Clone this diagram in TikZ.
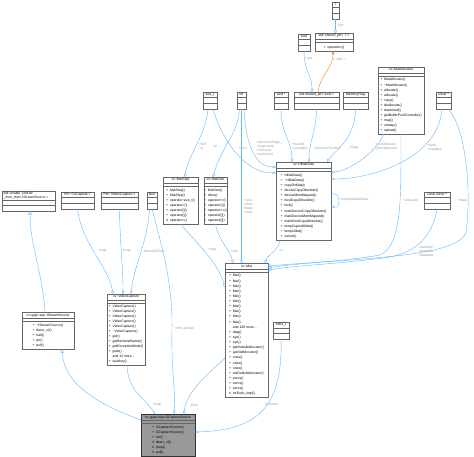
\documentclass[tikz,border=0pt]{standalone}
\usepackage{fontspec}
\setmainfont{Liberation Sans}
\usetikzlibrary{arrows.meta,calc}
\definecolor{edgeblue}{HTML}{63B8FF}
\definecolor{boxline}{HTML}{666666}
\definecolor{lblgray}{HTML}{9A9A9A}
\definecolor{mainfill}{HTML}{999999}
% class box: [style]{id}{x1}{y1}{x2}{y2}{nrows}{title}{rows}
\newcommand{\cls}[9][boxnode]{%
  \pgfmathsetmacro\cbW{#5-#3}%
  \pgfmathsetmacro\cbH{#6-#4}%
  \pgfmathsetmacro\cbP{(#6-#4-11)/#7}%
  \node[#1, minimum width=\cbW pt, minimum height=\cbH pt, anchor=north west] (#2) at (#3,#4) {};
  \draw[sepline] (#3,#4+5.8) -- (#5,#4+5.8);
  \draw[sepline] (#3,#4+8.8) -- (#5,#4+8.8);
  \node[ttl] (#2-t) at ({(#3+#5)/2},#4+3.1) {#8};
  \node[rowtxt] (#2-r) at ({(#3+#5)/2},#4+10.2) {\fontsize{3.4}{\cbP pt}\selectfont\begin{tabular}{@{}c@{\hspace{1.8pt}}l@{}}#9\end{tabular}};
}
% empty box: {id}{x1}{y1}{x2}{title}
\newcommand{\ebx}[5]{%
  \pgfmathsetmacro\cbW{#4-#2}%
  \node[boxnode, minimum width=\cbW pt, minimum height=17pt, anchor=north west] (#1) at (#2,#3) {};
  \draw[sepline] (#2,#3+5.7) -- (#4,#3+5.7);
  \draw[sepline] (#2,#3+11.3) -- (#4,#3+11.3);
  \node[ttl] (#1-t) at ({(#2+#4)/2},#3+3) {#5};
}
\begin{document}
\begin{tikzpicture}[x=1pt,y=-1pt,
  boxnode/.style={draw=boxline, fill=white, line width=0.4pt, inner sep=0pt, outer sep=0pt, rectangle},
  mainnode/.style={boxnode, fill=mainfill, draw=black!80},
  sepline/.style={draw=boxline, line width=0.4pt},
  ttl/.style={inner sep=0pt, font=\fontsize{3.4}{4}\selectfont, text height=2.5pt, text depth=0.7pt},
  rowtxt/.style={inner sep=0pt, anchor=north},
  lbl/.style={inner sep=0pt, anchor=west, text=lblgray, align=left, font=\fontsize{3.4}{4.1}\selectfont},
  use/.style={draw=edgeblue, line width=0.4pt, -{Diamond[open,length=4.2pt,width=2.6pt]}},
  inh/.style={draw=edgeblue, line width=0.4pt, -{Triangle[open,length=3.6pt,width=3.6pt]}},
  tmpl/.style={draw=orange, line width=0.4pt, -{Triangle[length=3.4pt,width=2.6pt]}},
]
\fill[white] (0,0) rectangle (474,457);
\useasboundingbox (0,0) rectangle (474,457);

% ---------- boxes ----------
\ebx{T}{332}{2}{339}{T}
\ebx{void}{298}{34}{310}{void}
\cls{spT}{315}{33}{353}{51}{1}{std::shared\_ptr< T >}{+ & operator=()}
\ebx{spVoid}{294}{92}{339}{std::shared\_ptr< void >}
\ebx{voidp}{274}{92}{288}{void *}
\ebx{int}{237}{92}{246}{int}
\ebx{sizet}{203}{92}{217}{size\_t}
\ebx{memflag}{343}{92}{368}{MemoryFlag}
\ebx{uchar}{436}{92}{451}{uchar *}
\cls{alloc}{378}{67}{424}{134}{11}{cv::MatAllocator}{%
+ & MatAllocator()\\ + & \textasciitilde MatAllocator()\\ + & allocate()\\ + & allocate()\\
+ & copy()\\ + & deallocate()\\ + & download()\\ + & getBufferPoolController()\\
+ & map()\\ + & unmap()\\ + & upload()}

% enable_shared_from_this (two-line title)
\node[boxnode, minimum width=53pt, minimum height=20pt, anchor=north west] (enable) at (2,191) {};
\draw[sepline] (2,200.5) -- (55,200.5);
\draw[sepline] (2,205.5) -- (55,205.5);
\node[inner sep=0pt, anchor=north west, align=left, font=\fontsize{3.4}{4}\selectfont] (enable-t) at (3.5,191.8) {std::enable\_shared\\\_from\_this< IStreamSource >};

\ebx{ptrcv}{61}{192}{94}{Ptr< CvCapture >}
\ebx{ptriv}{101}{192}{138}{Ptr< IVideoCapture >}
\ebx{bool}{147}{192}{157}{bool}
\ebx{cuchar}{424}{192}{450}{const uchar *}
\ebx{i64}{273}{322}{289}{int64\_t}

\cls{matstep}{163}{177}{198}{224}{7}{cv::MatStep}{%
+ & MatStep()\\ + & MatStep()\\ + & operator size\_t()\\ + & operator=()\\
+ & operator[]()\\ + & operator[]()\\ \# & operator=()}
\cls{matsize}{204}{177}{227}{224}{7}{cv::MatSize}{%
+ & MatSize()\\ + & dims()\\ + & operator!=()\\ + & operator()()\\
+ & operator==()\\ + & operator[]()\\ + & operator[]()}
\cls{umat}{276}{162}{331}{240}{13}{cv::UMatData}{%
+ & UMatData()\\ + & \textasciitilde UMatData()\\ + & copyOnMap()\\ + & deviceCopyObsolete()\\
+ & deviceMemMapped()\\ + & hostCopyObsolete()\\ + & lock()\\ + & markDeviceCopyObsolete()\\
+ & markDeviceMemMapped()\\ + & markHostCopyObsolete()\\ + & tempCopiedUMat()\\ + & tempUMat()\\
+ & unlock()}
\cls{mat}{225}{263}{268}{397}{24}{cv::Mat}{%
+ & Mat()\\ + & Mat()\\ + & Mat()\\ + & Mat()\\ + & Mat()\\ + & Mat()\\ + & Mat()\\ + & Mat()\\
+ & Mat()\\ + & Mat()\\ & and 128 more...\\ + & diag()\\ + & eye()\\ + & eye()\\
+ & getDefaultAllocator()\\ + & getStdAllocator()\\ + & ones()\\ + & ones()\\ + & ones()\\
+ & setDefaultAllocator()\\ + & zeros()\\ + & zeros()\\ + & zeros()\\ \# & forEach\_impl()}
\cls{vcap}{107}{294}{145}{365}{12}{cv::VideoCapture}{%
+ & VideoCapture()\\ + & VideoCapture()\\ + & VideoCapture()\\ + & VideoCapture()\\
+ & VideoCapture()\\ + & \textasciitilde VideoCapture()\\ + & get()\\ + & getBackendName()\\
+ & getExceptionMode()\\ + & grab()\\ & and 12 more...\\ + & waitAny()}
\cls{iss}{22}{312}{74}{349}{5}{cv::gapi::wip::IStreamSource}{%
+ & \textasciitilde IStreamSource()\\ + & descr\_of()\\ + & halt()\\ + & ptr()\\ + & pull()}
\cls[mainnode]{gcs}{141}{414}{195}{456}{6}{cv::gapi::wip::GCaptureSource}{%
+ & GCaptureSource()\\ + & GCaptureSource()\\ + & set()\\ \# & descr\_of()\\ \# & prep()\\ \# & pull()}

% ---------- connectors ----------
\draw[use] (T.south) -- (T.south |- spT.north);
\node[lbl] (l1) at (337.5,26) {+ptr};
\draw[use] (void.south) .. controls (304,72) and (312,75) .. ($(spVoid.north west)+(18,0)$);
\node[lbl] (l2) at (306,59) {+ptr};
\draw[tmpl] ($(spVoid.north west)+(24,0)$) .. controls (320,75) and (333,68) .. ($(spT.south west)+(18,0)$);
\node[lbl] (l3) at (333,59) { < void >};

\draw[use] (spVoid.south) .. controls (316,135) and (309,140) .. ($(umat.north west)+(33,0)$);
\node[lbl] (l4) at (313.5,148) {+allocatorContext};
\draw[use] (voidp.south) .. controls (281,135) and (292,140) .. ($(umat.north west)+(16,0)$);
\node[lbl] (l5) at (292,146) {+handle\\+userdata};
\draw[use] ($(int.south west)+(7,0)$) .. controls (246,150) and (258,167) .. ($(umat.north west)+(0,5)$);
\node[lbl] (l6) at (256.5,148) {+allocatorFlags\_\\+mapcount\\+refcount\\+urefcount};
\draw[use] ($(sizet.south west)+(10,0)$) .. controls (222,140) and (245,173) .. ($(umat.north west)+(0,11)$);
\node[lbl] (l7) at (238.5,148) {+size};
\draw[use] (memflag.south) .. controls (355,140) and (335,150) .. ($(umat.north east)+(-4,0)$);
\node[lbl] (l8) at (349,148) {+flags};
\draw[use] ($(alloc.south west)+(6,0)$) .. controls (375,155) and (345,172) .. ($(umat.north east)+(0,10)$);
\node[lbl] (l9) at (375,147) {+currAllocator\\+prevAllocator};
\draw[use] ($(uchar.south west)+(6,0)$) .. controls (438,160) and (370,179) .. ($(umat.north east)+(0,17)$);
\node[lbl] (l10) at (427,148) {+data\\+origdata};
\draw[use] ($(umat.north east)+(0,32)$) .. controls (341,191) and (341,209) .. ($(umat.north east)+(0,44)$);
\node[lbl] (l11) at (340,200) {+originalUMatData};

\draw[use] ($(sizet.south west)+(5,0)$) .. controls (206,135) and (188,155) .. ($(matstep.north west)+(22,0)$);
\node[lbl] (l12) at (199,147) {+buf\\+p};
\draw[use] ($(int.south west)+(2.5,0)$) .. controls (238,135) and (222,145) .. ($(matsize.north west)+(9,0)$);
\node[lbl] (l13) at (213,147) {+p};

\draw[use] (matstep.south) .. controls (192,238) and (218,262) .. ($(mat.north west)+(0,24)$);
\node[lbl] (l14) at (208,250) {+step};
\draw[use] (matsize.south) .. controls (218,240) and (230,250) .. ($(mat.north west)+(8,0)$);
\node[lbl] (l15) at (230,251) {+size};
\draw[use] (int.south) -- (int.south |- mat.north);
\node[lbl] (l16) at (243.5,206) {+cols\\+dims\\+flags\\+rows};
\draw[use] ($(umat.south west)+(4,0)$) .. controls (279,250) and (268,255) .. ($(mat.north east)+(-3,0)$);
\node[lbl] (l17) at (279,251) {+u};
\draw[use] ($(alloc.south west)+(23,0)$) .. controls (401,200) and (402,245) .. (380,255) .. controls (340,262) and (300,263) .. ($(mat.north east)+(0,3)$);
\node[lbl] (l18) at (403,200) {+allocator};
\draw[use] ($(uchar.south west)+(12,0)$) .. controls (468,130) and (471,200) .. (466,232) .. controls (460,260) and (330,258) .. ($(mat.north east)+(0,5)$);
\node[lbl, anchor=east] (l19) at (467,200) {+data};
\draw[use] (cuchar.south) .. controls (432,238) and (415,252) .. (390,257) .. controls (340,264) and (300,265) .. ($(mat.north east)+(0,7)$);
\node[lbl] (l20) at (418,251) {+dataend\\+datalimit\\+datastart};

\draw[use] (ptrcv.south) .. controls (82,245) and (108,265) .. ($(vcap.north west)+(6,0)$);
\node[lbl] (l21) at (99,251) {\#cap};
\draw[use] (ptriv.south) .. controls (120,245) and (123,265) .. ($(vcap.north west)+(16,0)$);
\node[lbl] (l22) at (122.5,251) {\#icap};
\draw[use] ($(bool.south west)+(2.5,0)$) .. controls (147,245) and (134,265) .. ($(vcap.north west)+(24,0)$);
\node[lbl] (l23) at (143.5,251) {\#throwOnFail};

\draw[inh] ($(iss.north west)+(23,0)$) .. controls (42,270) and (30,245) .. ($(enable.south west)+(28,0)$);
\draw[inh] ($(gcs.north west)+(0,6)$) .. controls (100,405) and (64,385) .. ($(iss.south west)+(40,0)$);

\draw[use] ($(vcap.south west)+(20,0)$) .. controls (128,392) and (145,398) .. ($(gcs.north west)+(14,0)$);
\node[lbl] (l24) at (153.5,405) {\#cap};
\draw[use] (bool.south) .. controls (160,240) and (173,280) .. (172,330) .. controls (171,370) and (176,395) .. ($(gcs.north west)+(33,0)$);
\node[lbl] (l25) at (175,329) {\#first\_pulled};
\draw[use] ($(mat.north west)+(0,95)$) .. controls (210,372) and (186,392) .. ($(gcs.north east)+(-11,0)$);
\node[lbl] (l26) at (190.5,405) {\#first};
\draw[use] (i64.south) .. controls (283,410) and (255,430) .. ($(gcs.north east)+(0,18)$);
\node[lbl] (l27) at (265,404) {\#counter};
\end{tikzpicture}
\end{document}
